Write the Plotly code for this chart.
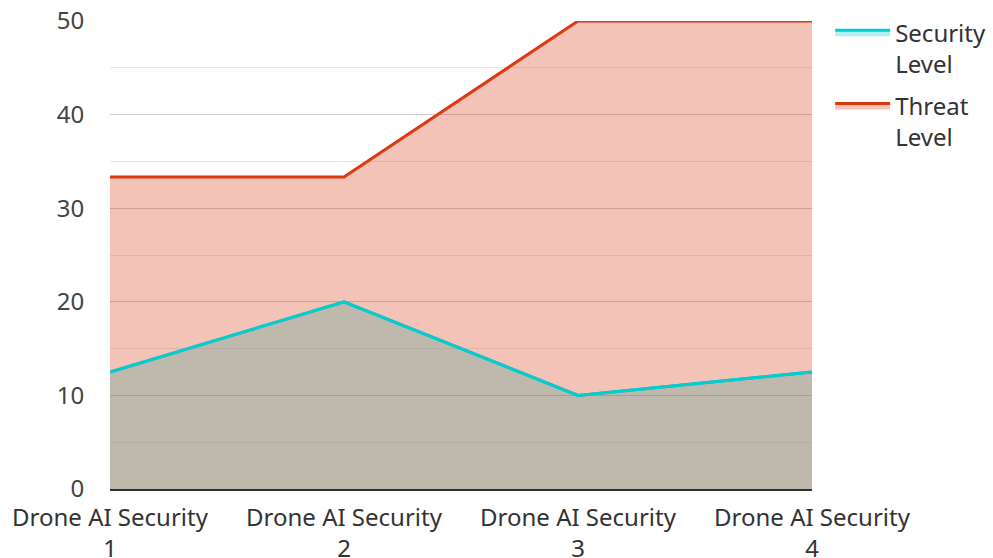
import plotly.graph_objects as go

categories = ["Drone AI Security<br>1", "Drone AI Security<br>2", "Drone AI Security<br>3", "Drone AI Security<br>4"]
security_level = [12.5, 20, 10, 12.5]
threat_level = [33.33, 33.33, 50, 50]

sec_color = "#00CED1"
thr_color = "#DC3912"

fig = go.Figure()
fig.add_trace(go.Scatter(
    x=categories, y=security_level, name="Security<br>Level",
    mode="lines", fill="tozeroy", legendgroup="sec",
    line=dict(color=sec_color, width=3),
    fillcolor="rgba(0,206,209,0.3)",
))
fig.add_trace(go.Scatter(
    x=categories, y=threat_level, name="Threat<br>Level",
    mode="lines", fill="tozeroy", legendgroup="thr",
    line=dict(color=thr_color, width=3),
    fillcolor="rgba(220,57,18,0.3)",
))
# redraw the security line above the threat fill
fig.add_trace(go.Scatter(
    x=categories, y=security_level, mode="lines", showlegend=False,
    legendgroup="sec",
    line=dict(color=sec_color, width=3), hoverinfo="skip",
))

font_family = "Noto Sans, Open Sans, sans-serif"
fig.update_layout(
    width=993, height=558,
    margin=dict(l=110, r=181, t=21, b=69),
    plot_bgcolor="white", paper_bgcolor="white",
    font=dict(family=font_family, size=24, color="#444"),
    showlegend=True,
    legend=dict(xref="container", yref="container",
                x=0.836, y=0.982, xanchor="left", yanchor="top", valign="top",
                itemwidth=55, traceorder="grouped", tracegroupgap=8,
                font=dict(size=24, color="#333")),
    xaxis=dict(
        range=[0, 3], showgrid=False, showline=True, linecolor="#333", linewidth=2,
        ticks="outside", ticklen=6, tickcolor="rgba(0,0,0,0)",
        tickfont=dict(size=24, color="#333"), zeroline=False, automargin=False,
    ),
    yaxis=dict(
        range=[0, 50], dtick=10, showgrid=True, gridcolor="#ccc", gridwidth=1,
        zeroline=False, showline=False, automargin=False,
        ticks="outside", ticklen=20, tickcolor="rgba(0,0,0,0)",
        tickfont=dict(size=24, color="#444"),
        minor=dict(dtick=5, showgrid=True, gridcolor="#e8e8e8", gridwidth=1),
    ),
)

fig.write_html("out.html", config={"displayModeBar": False},
               post_script="document.body.style.margin='0';")
